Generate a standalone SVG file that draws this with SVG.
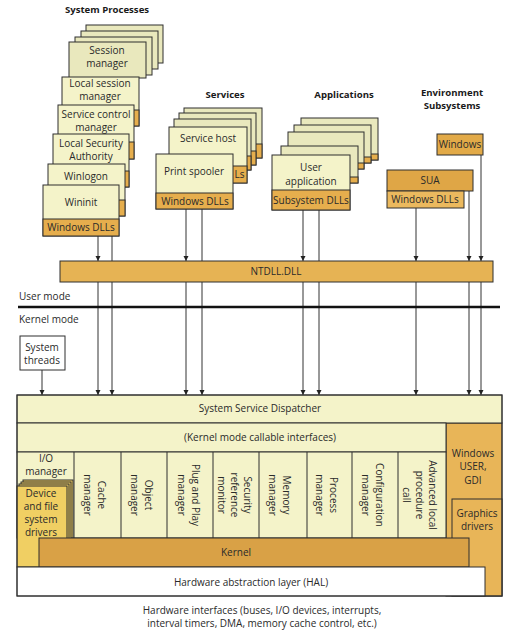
<svg xmlns="http://www.w3.org/2000/svg" width="509" height="643" viewBox="0 0 509 643">
<defs>
<style>
text{font-family:"Open Sans","Noto Sans",sans-serif;font-size:10px;fill:#2a2a2a;text-anchor:middle}
.t{font-weight:bold;font-size:9.6px;fill:#1a1a1a}
.l{text-anchor:start}
.c{fill:#f4f3c9;stroke:#2f2f2f;stroke-width:1}
.b{fill:#e9e8bd;stroke:#2f2f2f;stroke-width:1}
.o{fill:#e6ae4d;stroke:#2f2f2f;stroke-width:1}
.w{fill:#fff;stroke:#2f2f2f;stroke-width:1}
.cn{stroke:#333;stroke-width:1;fill:none;marker-end:url(#ah)}
</style>
<marker id="ah" markerUnits="userSpaceOnUse" markerWidth="6" markerHeight="6" refX="5" refY="3" orient="auto"><path d="M0,0.5 L5,3 L0,5.5 z" fill="#222"/></marker>
</defs>
<rect width="509" height="643" fill="#fff"/>

<g id="connectors">
<line class="cn" x1="98" y1="236" x2="98" y2="261"/>
<line class="cn" x1="98" y1="282" x2="98" y2="395"/>
<line class="cn" x1="112" y1="236" x2="112" y2="395"/>
<line class="cn" x1="186" y1="209" x2="186" y2="261"/>
<line class="cn" x1="186" y1="282" x2="186" y2="395"/>
<line class="cn" x1="202" y1="209" x2="202" y2="395"/>
<line class="cn" x1="303" y1="210" x2="303" y2="261"/>
<line class="cn" x1="303" y1="282" x2="303" y2="395"/>
<line class="cn" x1="319" y1="210" x2="319" y2="395"/>
<line class="cn" x1="416" y1="208" x2="416" y2="261"/>
<line class="cn" x1="416" y1="282" x2="416" y2="395"/>
<line class="cn" x1="469" y1="191" x2="469" y2="261"/>
<line class="cn" x1="469" y1="282" x2="469" y2="395"/>
<line class="cn" x1="481" y1="155" x2="481" y2="261"/>
<line class="cn" x1="481" y1="282" x2="481" y2="395"/>
<line class="cn" x1="42" y1="370" x2="42" y2="395"/>
</g>

<g id="system-processes">
<text class="t" x="107" y="13">System Processes</text>
<rect class="b" x="86" y="25" width="77" height="38"/>
<rect class="b" x="81" y="31" width="77" height="38"/>
<rect class="b" x="75" y="37" width="77" height="38"/>
<rect class="b" x="69" y="42" width="77" height="36"/>
<text x="107" y="54">Session</text><text x="107" y="67">manager</text>
<rect class="c" x="62" y="77" width="77" height="49"/><rect class="o" x="62" y="110" width="77" height="16"/>
<text x="100" y="87">Local session</text><text x="100" y="100">manager</text>
<rect class="c" x="58" y="105" width="76" height="54"/><rect class="o" x="58" y="142" width="76" height="17"/>
<text x="96" y="118">Service control</text><text x="96" y="131">manager</text>
<rect class="c" x="53" y="134" width="76" height="53"/><rect class="o" x="53" y="171" width="76" height="16"/>
<text x="91" y="147">Local Security</text><text x="91" y="160">Authority</text>
<rect class="c" x="48" y="164" width="77" height="52"/><rect class="o" x="48" y="200" width="77" height="16"/>
<text x="86" y="180">Winlogon</text>
<rect class="c" x="43" y="185" width="76" height="51"/><rect class="o" x="43" y="219" width="76" height="17"/>
<text x="81" y="206">Wininit</text>
<text x="81" y="231">Windows DLLs</text>
</g>

<g id="services">
<text class="t" x="225" y="98">Services</text>
<rect class="b" x="184" y="108" width="78" height="50"/><rect class="o" x="184" y="144" width="78" height="14"/>
<rect class="b" x="179" y="113" width="77" height="52"/><rect class="o" x="179" y="151" width="77" height="14"/>
<rect class="b" x="174" y="119" width="77" height="51"/><rect class="o" x="174" y="156" width="77" height="14"/>
<rect class="c" x="169" y="127" width="78" height="56"/><rect class="o" x="169" y="166" width="78" height="17"/>
<text x="208" y="142">Service host</text>
<text class="l" x="234.5" y="178">Ls</text>
<rect class="c" x="156" y="154" width="77" height="55"/><rect class="o" x="156" y="193" width="77" height="16"/>
<text x="194" y="175">Print spooler</text>
<text x="195" y="205">Windows DLLs</text>
</g>

<g id="applications">
<text class="t" x="344" y="98">Applications</text>
<rect class="b" x="301" y="118" width="77" height="42"/><rect class="o" x="301" y="154" width="77" height="6"/>
<rect class="b" x="294" y="125" width="77" height="38"/><rect class="o" x="294" y="157" width="77" height="6"/>
<rect class="b" x="288" y="132" width="76" height="37"/><rect class="o" x="288" y="163" width="76" height="6"/>
<rect class="b" x="281" y="146" width="77" height="37"/><rect class="o" x="281" y="177" width="77" height="6"/>
<rect class="c" x="272" y="155" width="78" height="55"/><rect class="o" x="272" y="190" width="78" height="20"/>
<text x="311" y="171">User</text><text x="311" y="185">application</text>
<text x="311" y="204">Subsystem DLLs</text>
</g>

<g id="environment-subsystems">
<text class="t" x="452" y="96">Environment</text>
<text class="t" x="452" y="109">Subsystems</text>
<rect x="437" y="134" width="46" height="21" fill="#e2aa48" stroke="#2f2f2f"/>
<text x="460" y="148">Windows</text>
<rect x="387" y="170" width="86" height="21" fill="#dfa646" stroke="#2f2f2f"/>
<text x="430" y="184">SUA</text>
<rect x="387" y="191" width="77" height="17" fill="#ebb95e" stroke="#2f2f2f"/>
<text x="425" y="203">Windows DLLs</text>
</g>

<g id="ntdll">
<rect x="60" y="261" width="433" height="21" fill="#e6b354" stroke="#2f2f2f"/>
<text x="276" y="275">NTDLL.DLL</text>
</g>

<g id="mode-divider">
<text class="l" x="19" y="300">User mode</text>
<line x1="18" y1="307" x2="500" y2="307" stroke="#111" stroke-width="2.5"/>
<text class="l" x="19" y="323">Kernel mode</text>
</g>

<g id="system-threads">
<rect class="w" x="20" y="336" width="45" height="34"/>
<text x="42" y="351">System</text><text x="42" y="364">threads</text>
</g>

<g id="windows-user-gdi">
<rect x="446" y="423" width="56" height="173" fill="#e8b558" stroke="#2f2f2f"/>
<text x="473" y="457">Windows</text><text x="473" y="470">USER,</text><text x="473" y="484">GDI</text>
</g>
<g id="graphics-drivers">
<rect x="452" y="499" width="50" height="97" fill="#e8b558" stroke="#2f2f2f"/>
<text x="477" y="517">Graphics</text><text x="477" y="530">drivers</text>
</g>

<g id="system-service-dispatcher">
<rect class="c" x="17" y="395" width="485" height="28"/>
<text x="260" y="412">System Service Dispatcher</text>
</g>
<g id="kernel-callable-interfaces">
<rect class="c" x="17" y="423" width="429" height="29"/>
<text x="260" y="441">(Kernel mode callable interfaces)</text>
</g>

<g id="executive-components">
<rect class="c" x="17" y="452" width="429" height="86"/>
<line x1="74" y1="452" x2="74" y2="538" stroke="#2f2f2f"/>
<line x1="121" y1="452" x2="121" y2="538" stroke="#2f2f2f"/>
<line x1="167" y1="452" x2="167" y2="538" stroke="#2f2f2f"/>
<line x1="213" y1="452" x2="213" y2="538" stroke="#2f2f2f"/>
<line x1="259" y1="452" x2="259" y2="538" stroke="#2f2f2f"/>
<line x1="307" y1="452" x2="307" y2="538" stroke="#2f2f2f"/>
<line x1="352" y1="452" x2="352" y2="538" stroke="#2f2f2f"/>
<line x1="398" y1="452" x2="398" y2="538" stroke="#2f2f2f"/>
</g>
<g id="io-manager"><text x="46" y="462">I/O</text><text x="46" y="475">manager</text></g>
<g id="cache-manager"><text transform="translate(96,495) rotate(90)"><tspan x="0" y="-2">Cache</tspan><tspan x="0" y="12">manager</tspan></text></g>
<g id="object-manager"><text transform="translate(143,495) rotate(90)"><tspan x="0" y="-2">Object</tspan><tspan x="0" y="12">manager</tspan></text></g>
<g id="pnp-manager"><text transform="translate(190,495) rotate(90)"><tspan x="0" y="-2">Plug and Play</tspan><tspan x="0" y="12">manager</tspan></text></g>
<g id="security-reference-monitor"><text transform="translate(235,495) rotate(90)"><tspan x="0" y="-9">Security</tspan><tspan x="0" y="4">reference</tspan><tspan x="0" y="17">monitor</tspan></text></g>
<g id="memory-manager"><text transform="translate(281,495) rotate(90)"><tspan x="0" y="-2">Memory</tspan><tspan x="0" y="12">manager</tspan></text></g>
<g id="process-manager"><text transform="translate(328,495) rotate(90)"><tspan x="0" y="-2">Process</tspan><tspan x="0" y="12">manager</tspan></text></g>
<g id="configuration-manager"><text transform="translate(374,495) rotate(90)"><tspan x="0" y="-2">Configuration</tspan><tspan x="0" y="12">manager</tspan></text></g>
<g id="alpc"><text transform="translate(420,495) rotate(90)"><tspan x="0" y="-9">Advanced local</tspan><tspan x="0" y="4">procedure</tspan><tspan x="0" y="17">call</tspan></text></g>

<g id="device-drivers">
<rect x="23" y="480" width="50" height="58" fill="#f0cf63" stroke="#2f2f2f"/>
<rect x="21" y="482" width="50" height="58" fill="#f0cf63" stroke="#2f2f2f"/>
<rect x="19" y="484" width="50" height="58" fill="#f0cf63" stroke="#2f2f2f"/>
<rect x="17" y="486" width="50" height="81" fill="#f0cf63" stroke="#2f2f2f"/>
<text x="41" y="497">Device</text><text x="41" y="510">and file</text><text x="41" y="523">system</text><text x="41" y="536">drivers</text>
</g>

<g id="kernel">
<rect x="39" y="538" width="430" height="29" fill="#d9a146" stroke="#2f2f2f"/>
<text x="236" y="556">Kernel</text>
</g>
<g id="hal">
<rect class="w" x="17" y="567" width="468" height="29"/>
<text x="251" y="586">Hardware abstraction layer (HAL)</text>
</g>
<rect x="17" y="395" width="485" height="201" fill="none" stroke="#2f2f2f"/>

<g id="hardware-interfaces">
<text x="262" y="614">Hardware interfaces (buses, I/O devices, interrupts,</text>
<text x="262" y="627">interval timers, DMA, memory cache control, etc.)</text>
</g>
</svg>
